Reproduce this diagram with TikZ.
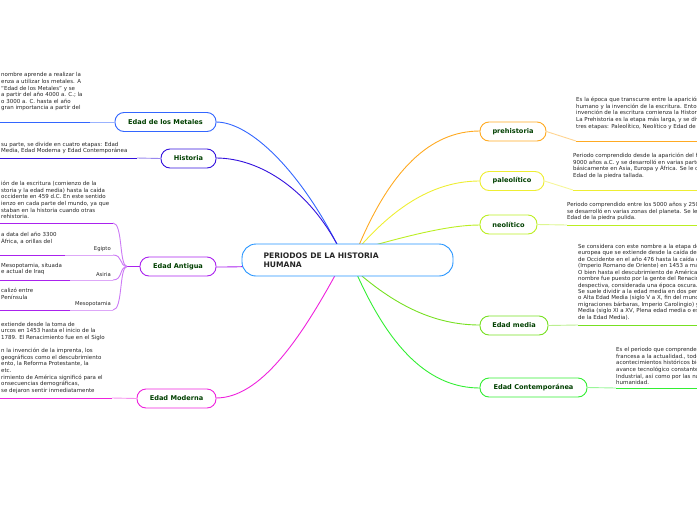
\documentclass[tikz,border=0pt]{standalone}
\usepackage{fontspec}
\setmainfont{DejaVu Sans}
\begin{document}
\begin{tikzpicture}[x=1pt,y=-1pt,
  topic/.style={draw=#1,line width=0.9pt,rounded corners=9pt,fill=white,font=\fontsize{6.6}{8}\selectfont\bfseries,text=green!25!black,inner sep=0pt,minimum height=19pt},
  note/.style={anchor=north west,align=left,inner sep=0pt,font=\fontsize{5.5}{6.6}\selectfont,text=black!85},
  lbl/.style={anchor=south east,inner sep=1pt,font=\fontsize{5.3}{6}\selectfont,text=black!85},
  br/.style={draw=#1,line width=0.9pt}]
\useasboundingbox (0,0) rectangle (697,520);
\clip (0,0) rectangle (697,520);
\definecolor{cPre}{HTML}{FFAA22}
\definecolor{cPal}{HTML}{EEEE33}
\definecolor{cNeo}{HTML}{BBEE22}
\definecolor{cMed}{HTML}{77E022}
\definecolor{cCon}{HTML}{33EE33}
\definecolor{cMet}{HTML}{3366FF}
\definecolor{cHis}{HTML}{3311DD}
\definecolor{cAnt}{HTML}{AA22EE}
\definecolor{cMod}{HTML}{EE22DD}

% connectors (under nodes)
\coordinate (cr) at (357,250);
\coordinate (cl) at (340,250);
\coordinate (crb) at (355,270);
\coordinate (clb) at (338,270);
\draw[br=cPre] (cr) .. controls (390,170) and (430,131) .. (480,131);
\draw[br=cPal] (cr) .. controls (400,200) and (440,181) .. (480,181);
\draw[br=cNeo] (cr) .. controls (410,235) and (450,225) .. (480,225);
\draw[br=cMed] (crb) .. controls (400,310) and (440,325) .. (480,325);
\draw[br=cCon] (crb) .. controls (390,350) and (430,388) .. (480,388);
\draw[br=cMet] (cl) .. controls (300,170) and (250,122) .. (216,122);
\draw[br=cHis] (cl) .. controls (310,190) and (260,158) .. (216,158);
\draw[br=cAnt] (cl) .. controls (300,265) and (260,267) .. (216,267);
\draw[br=cMod] (clb) .. controls (300,340) and (260,398) .. (216,398);

% central
\node[draw=cMet!70!cyan,line width=0.9pt,rounded corners=14pt,fill=white,minimum width=211pt,minimum height=32pt,inner sep=0pt] (c) at (347.5,260) {};
\node[anchor=west,align=left,font=\fontsize{7.6}{9}\selectfont\bfseries,text=black!85] (ct) at (260,260) {PERIODOS DE LA HISTORIA\\HUMANA};

% right nodes
\node[topic=cPre,minimum width=66pt] (pre) at (513,131.5) {prehistoria};
\node[topic=cPal,minimum width=64pt] (pal) at (512,181) {paleolítico};
\node[topic=cNeo,minimum width=57pt] (neo) at (508.5,224.5) {neolítico};
\node[topic=cMed,minimum width=68pt] (med) at (514,325.5) {Edad media};
\node[topic=cCon,minimum width=107pt] (con) at (533.5,387.5) {Edad Contemporánea};

\draw[br=cPre!50] (pre.east) -- (576,141); \draw[br=cPre] (576,141) -- (697,141);
\draw[br=cPal!50] (pal.east) -- (573,190); \draw[br=cPal] (573,190) -- (697,190);
\draw[br=cNeo!50] (neo.east) -- (567,225); \draw[br=cNeo] (567,225) -- (697,225);
\draw[br=cMed!50] (med.east) -- (578,325); \draw[br=cMed] (578,325) -- (697,325);
\draw[br=cCon!50] (con.east) -- (616,388); \draw[br=cCon] (616,388) -- (697,388);

\node[note] (tpre) at (576,97) {Es la época que transcurre entre la aparición del ser\\humano y la invención de la escritura. Entonces, con la\\invención de la escritura comienza la Historia.\\La Prehistoria es la etapa más larga, y se divide en\\tres etapas: Paleolítico, Neolítico y Edad de los Metales.};
\node[note] (tpal) at (573,153) {Periodo comprendido desde la aparición del hombre hasta\\9000 años a.C. y se desarrolló en varias partes del mundo,\\básicamente en Asia, Europa y África. Se le conoce como\\Edad de la piedra tallada.};
\node[note] (tneo) at (567,202) {Periodo comprendido entre los 5000 años y 2500 años a.C.\\se desarrolló en varias zonas del planeta. Se le conoce como\\Edad de la piedra pulida.};
\node[note,font=\fontsize{5.5}{6.45}\selectfont] (tmed) at (578,244) {Se considera con este nombre a la etapa de la historia\\europea que se extiende desde la caída del Imperio Romano\\de Occidente en el año 476 hasta la caída de Constantinopla\\(Imperio Romano de Oriente) en 1453 a manos de los turcos.\\O bien hasta el descubrimiento de América en 1492. Este\\nombre fue puesto por la gente del Renacimiento de forma\\despectiva, considerada una época oscura.\\Se suele dividir a la edad media en dos periodos: Temprana\\o Alta Edad Media (siglo V a X, fin del mundo antiguo,\\migraciones bárbaras, Imperio Carolingio) y Baja Edad\\Media (siglo XI a XV, Plena edad media o esplendor\\de la Edad Media).};
\node[note] (tcon) at (616,347) {Es el periodo que comprende desde la revolución\\francesa a la actualidad., todos estos\\acontecimientos históricos bien marcados por el\\avance tecnológico constante a partir de la Revolución\\Industrial, así como por las nuevas formas de vida de la\\humanidad.};

% left nodes
\node[topic=cMet,minimum width=101pt] (met) at (165.5,122) {Edad de los Metales};
\node[topic=cHis,minimum width=55pt] (his) at (188.5,158.5) {Historia};
\node[topic=cAnt,minimum width=76pt] (ant) at (178,266.5) {Edad Antigua};
\node[topic=cMod,minimum width=79pt] (mod) at (176.5,398.5) {Edad Moderna};

\draw[br=cMet!50] (met.west) -- (90,122); \draw[br=cMet] (90,122) -- (0,122);
\draw[br=cHis!50] (his.west) -- (137,158); \draw[br=cHis] (137,158) -- (0,158);
\draw[br=cMod!50] (mod.west) -- (112,398); \draw[br=cMod] (112,398) -- (0,398);

\coordinate (aj) at (127,266.5);
\draw[br=cAnt] (ant.west) -- (aj);
\draw[br=cAnt!60] (aj) .. controls (119,266) and (123,223) .. (113,223);
\draw[br=cAnt!60] (aj) .. controls (119,266) and (123,255) .. (113,255);
\draw[br=cAnt!60] (aj) .. controls (119,267) and (123,280) .. (113,280);
\draw[br=cAnt!60] (aj) .. controls (119,267) and (123,310) .. (113,310);
\draw[br=cAnt] (113,223) -- (0,223);
\draw[br=cAnt!40] (113,255) -- (65,255); \draw[br=cAnt] (65,255) -- (0,255);
\draw[br=cAnt!40] (113,280) -- (70,280); \draw[br=cAnt] (70,280) -- (0,280);
\draw[br=cAnt!40] (113,310) -- (70,310); \draw[br=cAnt] (70,310) -- (0,310);

\node[lbl] (leg) at (112,253) {Egipto};
\node[lbl] (las) at (112,278) {Asiria};
\node[lbl] (lme) at (112,308) {Mesopotamia};

\node[note] (tmet) at (1,72.5) {nombre aprende a realizar la\\enza a utilizar los metales. A\\``Edad de los Metales'' y se\\a partir del año 4000 a. C.; la\\o 3000 a. C. hasta el año\\gran importancia a partir del};
\node[note] (this) at (1,142) {su parte, se divide en cuatro etapas: Edad\\Media, Edad Moderna y Edad Contemporánea};
\node[note] (tant) at (1,181) {ión de la escritura (comienzo de la\\storia y la edad media) hasta la caída\\occidente en 459 d.C. En este sentido\\ienzo en cada parte del mundo, ya que\\staban en la historia cuando otras\\rehistoria.};
\node[note] (teg) at (1,232) {a data del año 3300\\África, a orillas del};
\node[note] (tas) at (1,263) {Mesopotamia, situada\\e actual de Iraq};
\node[note] (tme) at (1,288) {calizó entre\\Península};
\node[note] (tmod) at (1,322) {extiende desde la toma de\\urcos en 1453 hasta el inicio de la\\1789. El Renacimiento fue en el Siglo\\\\n la invención de la imprenta, los\\geográficos como el descubrimiento\\ento, la Reforma Protestante, la\\etc.\\rimiento de América significó para el\\onsecuencias demográficas,\\se dejaron sentir inmediatamente};
\end{tikzpicture}
\end{document}
